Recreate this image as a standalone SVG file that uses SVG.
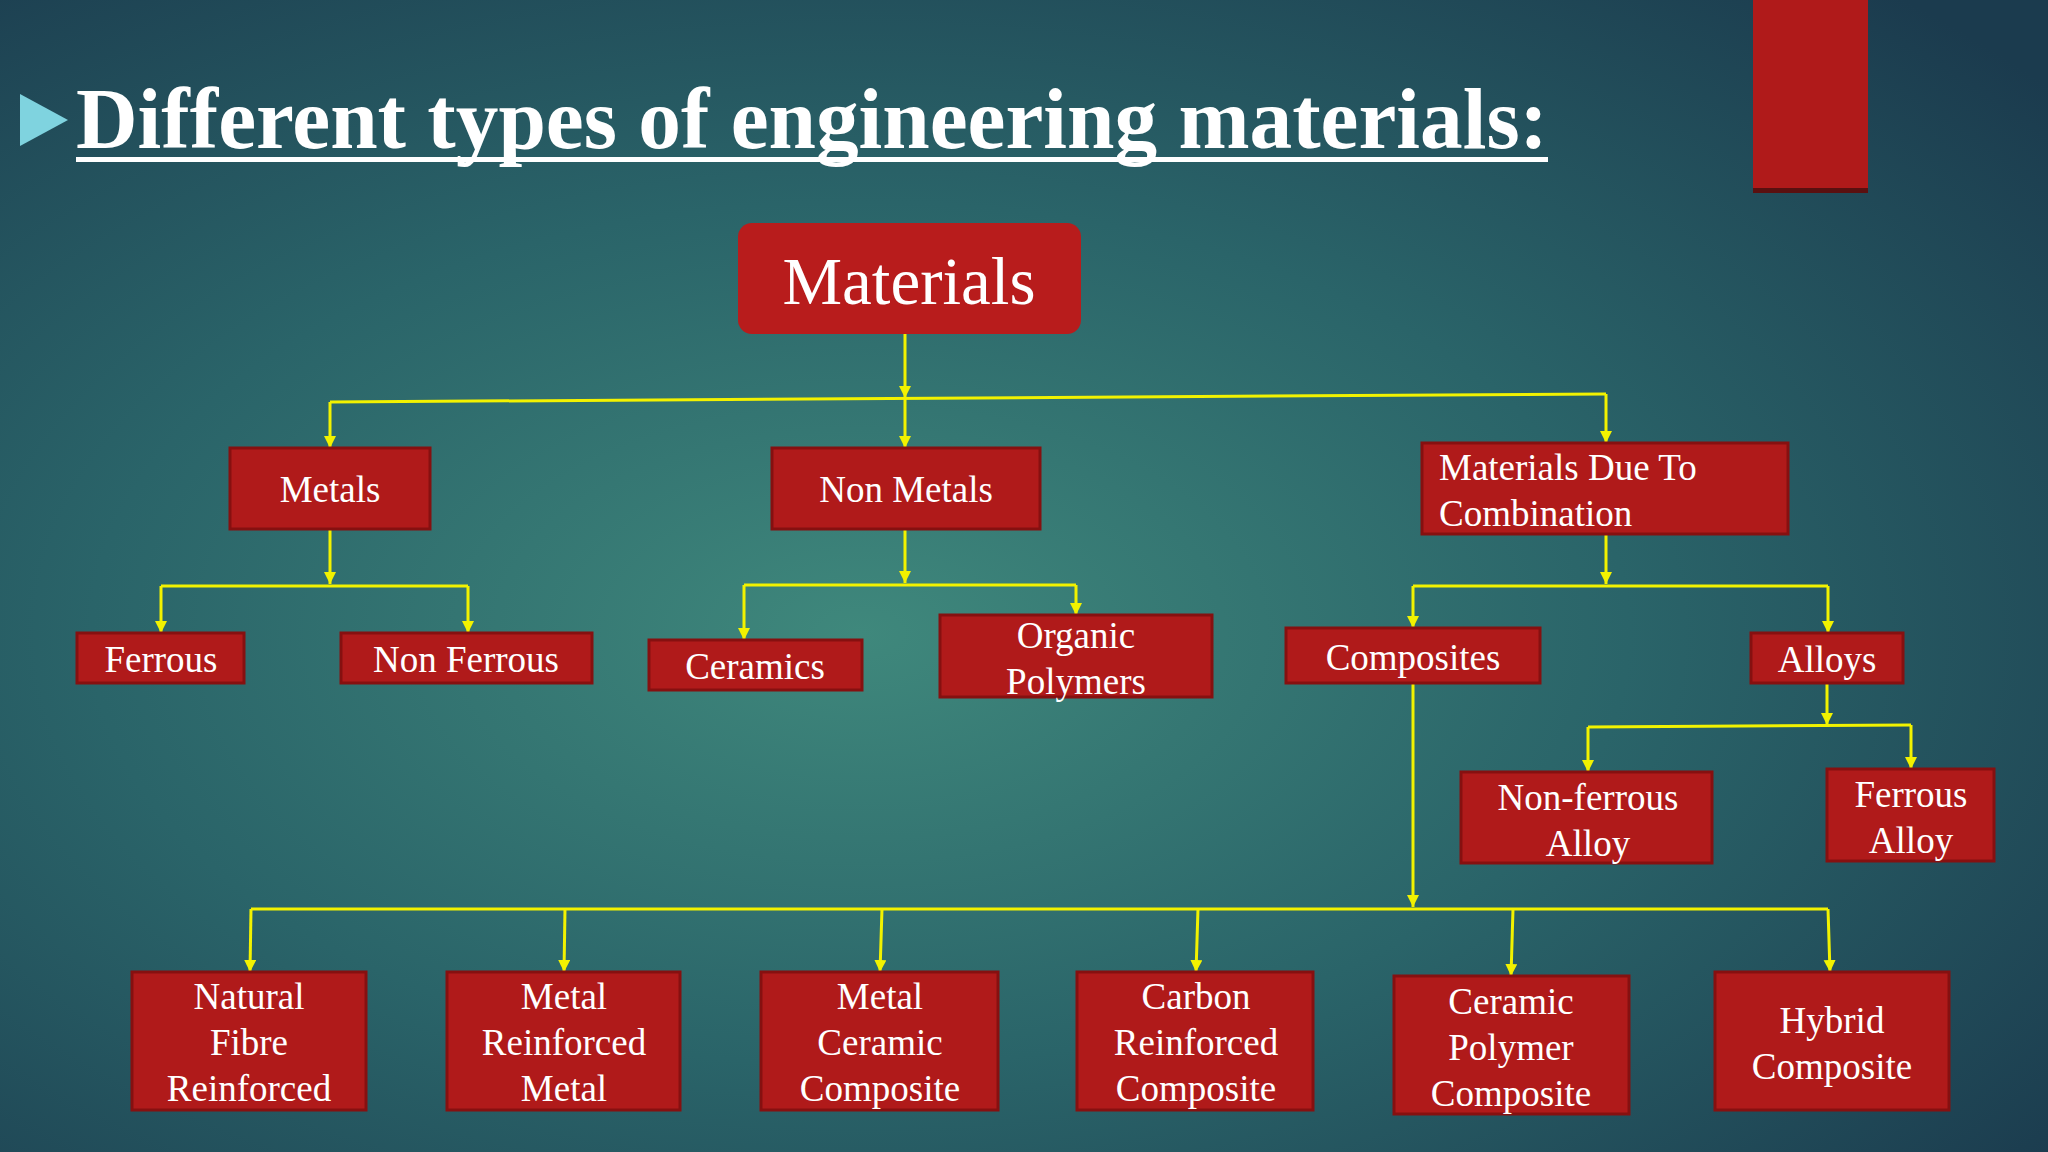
<svg xmlns="http://www.w3.org/2000/svg" width="2048" height="1152" viewBox="0 0 2048 1152">
<defs>
<radialGradient id="bg" cx="0.42" cy="0.55" r="0.75">
<stop offset="0" stop-color="#3f887c"/>
<stop offset="0.5" stop-color="#2a6469"/>
<stop offset="1" stop-color="#1b3b4e"/>
</radialGradient>
<marker id="ah" markerUnits="userSpaceOnUse" markerWidth="14" markerHeight="14" refX="12" refY="6" orient="auto">
<path d="M0,0 L12,6 L0,12 Z" fill="#f2f200"/>
</marker>
<style>
.n{fill:#b01a1a;stroke:#861010;stroke-width:3}
.t{font-family:"Liberation Serif",serif;font-size:37px;fill:#fff;text-anchor:middle}
.c line,.c polyline{stroke:#f2f200;stroke-width:3;fill:none}
.a{marker-end:url(#ah)}
</style>
</defs>
<rect width="2048" height="1152" fill="url(#bg)"/>
<rect x="1753" y="0" width="115" height="190" fill="#b01a1a"/>
<rect x="1753" y="188" width="115" height="5" fill="#5a1010"/>
<polygon points="20,94 68,120 20,146" fill="#7fd3df"/>
<text x="76" y="148" font-family="Liberation Serif,serif" font-weight="bold" font-size="86" fill="#fff" textLength="1472" lengthAdjust="spacingAndGlyphs">Different types of engineering materials:</text>
<rect x="76" y="157" width="1472" height="5" fill="#fff"/>

<g class="c">
<line x1="905" y1="334" x2="905" y2="398" class="a"/>
<polyline points="330,402 1606,394"/>
<line x1="330" y1="402" x2="330" y2="448" class="a"/>
<line x1="905" y1="398" x2="905" y2="448" class="a"/>
<line x1="1606" y1="394" x2="1606" y2="443" class="a"/>
<line x1="330" y1="529" x2="330" y2="584" class="a"/>
<polyline points="161,586 468,586"/>
<line x1="161" y1="586" x2="161" y2="633" class="a"/>
<line x1="468" y1="586" x2="468" y2="633" class="a"/>
<line x1="905" y1="529" x2="905" y2="583" class="a"/>
<polyline points="744,585 1076,585"/>
<line x1="744" y1="585" x2="744" y2="640" class="a"/>
<line x1="1076" y1="585" x2="1076" y2="615" class="a"/>
<line x1="1606" y1="534" x2="1606" y2="584" class="a"/>
<polyline points="1413,586 1828,586"/>
<line x1="1413" y1="586" x2="1413" y2="628" class="a"/>
<line x1="1828" y1="586" x2="1828" y2="633" class="a"/>
<line x1="1827" y1="683" x2="1827" y2="725" class="a"/>
<polyline points="1588,727 1911,725"/>
<line x1="1588" y1="727" x2="1588" y2="772" class="a"/>
<line x1="1911" y1="725" x2="1911" y2="769" class="a"/>
<line x1="1413" y1="683" x2="1413" y2="907" class="a"/>
<polyline points="251,909 1828,909"/>
<line x1="251" y1="909" x2="250" y2="972" class="a"/>
<line x1="565" y1="909" x2="564" y2="972" class="a"/>
<line x1="882" y1="909" x2="880" y2="972" class="a"/>
<line x1="1198" y1="909" x2="1196" y2="972" class="a"/>
<line x1="1513" y1="909" x2="1511" y2="976" class="a"/>
<line x1="1828" y1="909" x2="1830" y2="972" class="a"/>
</g>

<g id="materials"><rect x="738" y="223" width="343" height="111" rx="14" fill="#b81c1c"/><text x="909" y="304" font-family="Liberation Serif,serif" font-size="67" fill="#fff" text-anchor="middle">Materials</text></g>
<g id="metals"><rect class="n" x="230" y="448" width="200" height="81"/><text class="t" x="330" y="502">Metals</text></g>
<g id="nonmetals"><rect class="n" x="772" y="448" width="268" height="81"/><text class="t" x="906" y="502">Non Metals</text></g>
<g id="combination"><rect class="n" x="1422" y="443" width="366" height="91"/><text class="t" x="1439" y="480" style="text-anchor:start">Materials Due To</text><text class="t" x="1439" y="526" style="text-anchor:start">Combination</text></g>
<g id="ferrous"><rect class="n" x="77" y="633" width="167" height="50"/><text class="t" x="161" y="672">Ferrous</text></g>
<g id="nonferrous"><rect class="n" x="341" y="633" width="251" height="50"/><text class="t" x="466" y="672">Non Ferrous</text></g>
<g id="ceramics"><rect class="n" x="649" y="640" width="213" height="50"/><text class="t" x="755" y="679">Ceramics</text></g>
<g id="organic"><rect class="n" x="940" y="615" width="272" height="82"/><text class="t" x="1076" y="648">Organic</text><text class="t" x="1076" y="694">Polymers</text></g>
<g id="composites"><rect class="n" x="1286" y="628" width="254" height="55"/><text class="t" x="1413" y="670">Composites</text></g>
<g id="alloys"><rect class="n" x="1751" y="633" width="152" height="50"/><text class="t" x="1827" y="672">Alloys</text></g>
<g id="nfalloy"><rect class="n" x="1461" y="772" width="251" height="91"/><text class="t" x="1588" y="810">Non-ferrous</text><text class="t" x="1588" y="856">Alloy</text></g>
<g id="falloy"><rect class="n" x="1827" y="769" width="167" height="92"/><text class="t" x="1911" y="807">Ferrous</text><text class="t" x="1911" y="853">Alloy</text></g>
<g id="natural"><rect class="n" x="132" y="972" width="234" height="138"/><text class="t" x="249" y="1009">Natural</text><text class="t" x="249" y="1055">Fibre</text><text class="t" x="249" y="1101">Reinforced</text></g>
<g id="mrm"><rect class="n" x="447" y="972" width="233" height="138"/><text class="t" x="564" y="1009">Metal</text><text class="t" x="564" y="1055">Reinforced</text><text class="t" x="564" y="1101">Metal</text></g>
<g id="mcc"><rect class="n" x="761" y="972" width="237" height="138"/><text class="t" x="880" y="1009">Metal</text><text class="t" x="880" y="1055">Ceramic</text><text class="t" x="880" y="1101">Composite</text></g>
<g id="crc"><rect class="n" x="1077" y="972" width="236" height="138"/><text class="t" x="1196" y="1009">Carbon</text><text class="t" x="1196" y="1055">Reinforced</text><text class="t" x="1196" y="1101">Composite</text></g>
<g id="cpc"><rect class="n" x="1394" y="976" width="235" height="138"/><text class="t" x="1511" y="1014">Ceramic</text><text class="t" x="1511" y="1060">Polymer</text><text class="t" x="1511" y="1106">Composite</text></g>
<g id="hybrid"><rect class="n" x="1715" y="972" width="234" height="138"/><text class="t" x="1832" y="1033">Hybrid</text><text class="t" x="1832" y="1079">Composite</text></g>
</svg>
